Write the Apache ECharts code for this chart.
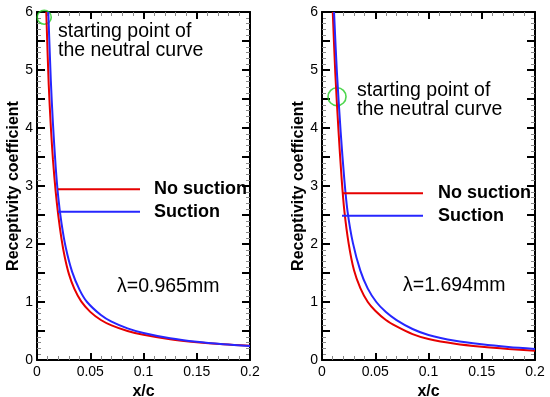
<!DOCTYPE html>
<html>
<head>
<meta charset="utf-8">
<script src="https://cdn.jsdelivr.net/npm/echarts@6/dist/echarts.min.js"></script>
<style>html,body{margin:0;padding:0;background:#fff;}#c{width:550px;height:397px;}</style>
</head>
<body>
<div id="c"></div>
<script>
// ---- data ----
const xTickLabels = ['0', '0.05', '0.1', '0.15', '0.2'];
const yTickLabels = ['0', '1', '2', '3', '4', '5', '6'];
const seriesNames = ['No suction', 'Suction'];
const panelLabels = ['λ=0.965mm', 'λ=1.694mm'];
const noteText = 'starting point of\nthe neutral curve';

// Left panel (λ=0.965mm)
const xA_noSuction = [0.0087, 0.011, 0.013, 0.015, 0.0175, 0.020, 0.023, 0.026, 0.030, 0.035, 0.0415, 0.05, 0.06, 0.07, 0.085, 0.1, 0.125, 0.15, 0.175, 0.2];
const yA_noSuction = [6.0, 4.75, 4.02, 3.45, 2.91, 2.49, 2.09, 1.78, 1.48, 1.23, 1.01, 0.83, 0.69, 0.597, 0.50, 0.435, 0.358, 0.307, 0.271, 0.245];
const xA_suction = [0.0106, 0.013, 0.015, 0.0175, 0.020, 0.023, 0.027, 0.033, 0.04, 0.047, 0.06, 0.07, 0.085, 0.1, 0.125, 0.15, 0.175, 0.2];
const yA_suction = [6.0, 4.81, 4.07, 3.34, 2.80, 2.36, 1.94, 1.52, 1.21, 1.00, 0.775, 0.661, 0.545, 0.465, 0.374, 0.313, 0.271, 0.24];
const neutralA = [0.0068, 5.91];

// Right panel (λ=1.694mm)
const xB_noSuction = [0.0101, 0.0125, 0.0155, 0.0185, 0.021, 0.025, 0.030, 0.036, 0.043, 0.05, 0.06, 0.07, 0.085, 0.1, 0.125, 0.15, 0.175, 0.2];
const yB_noSuction = [6.0, 4.94, 3.95, 3.11, 2.57, 2.01, 1.55, 1.24, 1.00, 0.85, 0.69, 0.58, 0.447, 0.362, 0.28, 0.228, 0.19, 0.16];
const xB_suction = [0.0113, 0.014, 0.0175, 0.021, 0.024, 0.029, 0.036, 0.043, 0.051, 0.06, 0.07, 0.085, 0.1, 0.125, 0.15, 0.175, 0.2];
const yB_suction = [6.0, 4.96, 3.94, 3.10, 2.56, 2.02, 1.54, 1.23, 1.00, 0.827, 0.689, 0.535, 0.432, 0.332, 0.27, 0.224, 0.19];
const neutralB = [0.0141, 4.54];

// ---- chart ----
const FONT = '"Liberation Sans", Arial, sans-serif';
const RED = '#e60000';
const BLUE = '#2626ff';
const GREEN = '#22cc22';
const zip = (xs, ys) => xs.map((x, i) => [x, ys[i]]);

function xAx(gridIndex, pos) {
  const bottom = pos === 'bottom';
  return {
    type: 'value', gridIndex, position: pos, min: 0, max: 0.2, interval: 0.05,
    name: bottom ? 'x/c' : '', nameLocation: 'middle', nameGap: 18,
    nameTextStyle: { fontFamily: FONT, fontSize: 16, fontWeight: 'bold', color: '#000' },
    axisLine: { show: true, onZero: false, lineStyle: { color: '#000', width: 2 } },
    axisTick: { show: true, inside: true, length: 7, lineStyle: { color: '#000', width: 2 } },
    minorTick: { show: true, splitNumber: 5, length: 4, lineStyle: { color: '#888', width: 1 } },
    axisLabel: {
      show: bottom, margin: 5, fontFamily: FONT, fontSize: 14, color: '#000',
      formatter: v => xTickLabels[Math.round(v / 0.05)]
    },
    splitLine: { show: false }
  };
}
function yAx(gridIndex, pos) {
  const left = pos === 'left';
  return {
    type: 'value', gridIndex, position: pos, min: 0, max: 6, interval: 0.5,
    name: left ? 'Receptivity coefficient' : '', nameLocation: 'middle', nameGap: 12, nameRotate: 90,
    nameTextStyle: { fontFamily: FONT, fontSize: 16, fontWeight: 'bold', color: '#000' },
    axisLine: { show: true, onZero: false, lineStyle: { color: '#000', width: 2 } },
    axisTick: { show: true, inside: true, length: 8, lineStyle: { color: '#000', width: 2 } },
    minorTick: { show: true, splitNumber: 5, length: 4, lineStyle: { color: '#888', width: 1 } },
    axisLabel: {
      show: left, margin: 4, fontFamily: FONT, fontSize: 14, color: '#000',
      formatter: v => (Math.abs(v - Math.round(v)) < 1e-6 ? yTickLabels[Math.round(v)] : '')
    },
    splitLine: { show: false }
  };
}
function curve(name, data, color, xi, yi) {
  return {
    type: 'line', name, data, xAxisIndex: xi, yAxisIndex: yi,
    showSymbol: false, smooth: 0.3,
    lineStyle: { color, width: 2 }, itemStyle: { color }
  };
}
function circle(pt, size, xi, yi) {
  return {
    type: 'scatter', data: [pt], xAxisIndex: xi, yAxisIndex: yi, symbolSize: size,
    itemStyle: { color: 'rgba(0,0,0,0)', borderColor: GREEN, borderWidth: 1.6 }, silent: true
  };
}
function legend(left, top, padLeft, w) {
  return {
    data: seriesNames, orient: 'vertical', left, top, padding: 0, itemGap: 2.4,
    itemWidth: w, itemHeight: 2, icon: 'rect', selectedMode: false,
    textStyle: { fontFamily: FONT, fontSize: 18, fontWeight: 'bold', color: '#000', lineHeight: 20, padding: [0, 0, 0, padLeft] }
  };
}
function note(text, left, top, lh) {
  return {
    text, left, top, padding: 0,
    textStyle: { fontFamily: FONT, fontSize: 19.5, fontWeight: 'normal', color: '#000', lineHeight: lh }
  };
}

const chart = echarts.init(document.getElementById('c'));
chart.setOption({
  animation: false,
  title: [
    note(noteText, 58, 22, 19),
    note(noteText, 357, 81, 19.3),
    note(panelLabels[0], 117, 276.7, 20),
    note(panelLabels[1], 403, 276, 20)
  ],
  grid: [
    { left: 37, top: 12, width: 213, height: 348, containLabel: false, outerBoundsMode: 'none' },
    { left: 322, top: 12, width: 213, height: 348, containLabel: false, outerBoundsMode: 'none' }
  ],
  xAxis: [xAx(0, 'bottom'), xAx(0, 'top'), xAx(1, 'bottom'), xAx(1, 'top')],
  yAxis: [yAx(0, 'left'), yAx(0, 'right'), yAx(1, 'left'), yAx(1, 'right')],
  legend: [legend(58, 179.3, 9, 82), legend(342, 183.3, 10, 81)],
  series: [
    curve(seriesNames[0], zip(xA_noSuction, yA_noSuction), RED, 0, 0),
    curve(seriesNames[1], zip(xA_suction, yA_suction), BLUE, 0, 0),
    circle(neutralA, 14, 0, 0),
    curve(seriesNames[0], zip(xB_noSuction, yB_noSuction), RED, 2, 2),
    curve(seriesNames[1], zip(xB_suction, yB_suction), BLUE, 2, 2),
    circle(neutralB, 18, 2, 2)
  ]
});
</script>
</body>
</html>
